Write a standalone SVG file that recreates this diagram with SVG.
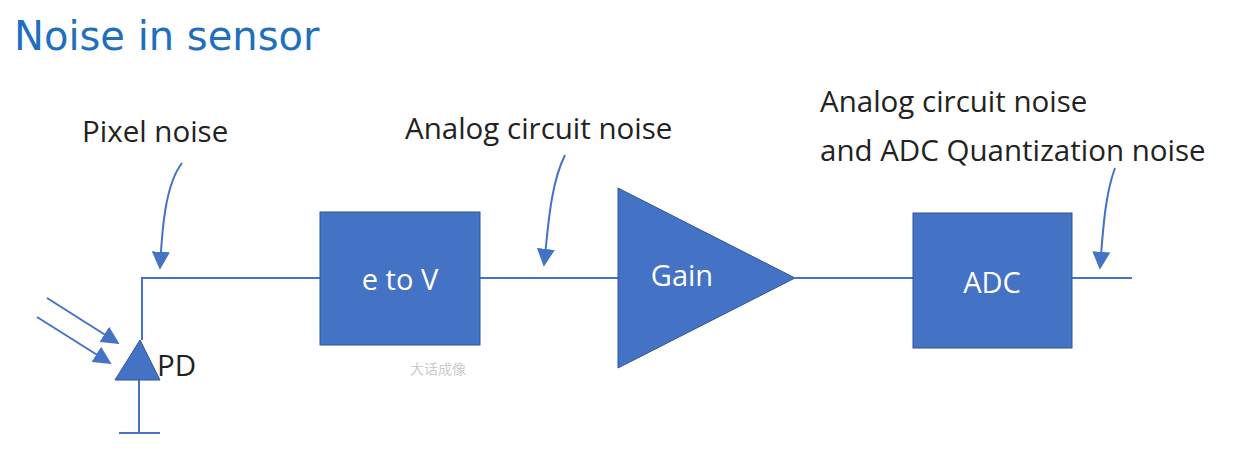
<svg xmlns="http://www.w3.org/2000/svg" width="1237" height="462" viewBox="0 0 1237 462">
<defs>
<marker id="ah2" viewBox="0 0 10 10" refX="9" refY="5" markerWidth="9" markerHeight="9" orient="auto"><path d="M0,0L10,5L0,10z" fill="#4472C4"/></marker>
<style>
.w{stroke:#4472C4;stroke-width:2;fill:none}
.b{fill:#4472C4;stroke:#2F5597;stroke-width:1}
.t{font-family:"Open Sans","Noto Sans",sans-serif;font-size:29.5px;fill:#222}
.n{font-family:"Open Sans","Noto Sans",sans-serif;font-size:29px;fill:#fff;text-anchor:middle}
</style>
</defs>
<rect width="1237" height="462" fill="#fff"/>
<text x="14" y="50" font-family="'DejaVu Sans',sans-serif" font-size="40" fill="#1F6FBF">Noise in sensor</text>
<g id="connectors">
<path class="w" d="M142,340V278H320M480,278H618M795,278H913M1072,278H1132M139,380V433M119,433H160"/>
<path class="w" marker-end="url(#ah2)" d="M47,298L118,343"/>
<path class="w" marker-end="url(#ah2)" d="M37,317L110,363"/>
<path class="w" marker-end="url(#ah2)" d="M182,163C165,185 162,230 160,268"/>
<path class="w" marker-end="url(#ah2)" d="M565,155C550,185 548,230 544,265"/>
<path class="w" marker-end="url(#ah2)" d="M1115,168C1105,195 1103,230 1100,268"/>
</g>
<g id="pd"><path class="b" d="M140,340L115,380H160z"/><text class="t" x="157" y="376">PD</text></g>
<g id="etov"><rect class="b" x="320" y="212" width="160" height="133"/><text class="n" x="400" y="290">e to V</text></g>
<g id="gain"><path class="b" d="M618,188L795,278L618,368z"/><text class="n" x="682" y="286">Gain</text></g>
<g id="adc"><rect class="b" x="913" y="213" width="159" height="135"/><text class="n" x="992" y="293">ADC</text></g>
<text class="t" x="82" y="142">Pixel noise</text>
<text class="t" x="405" y="139">Analog circuit noise</text>
<text class="t" x="820" y="112">Analog circuit noise</text>
<text class="t" x="820" y="161">and ADC Quantization noise</text>
<text x="410" y="374" font-family="'Noto Sans CJK SC',sans-serif" font-size="14" fill="#ccc">大话成像</text>
</svg>
